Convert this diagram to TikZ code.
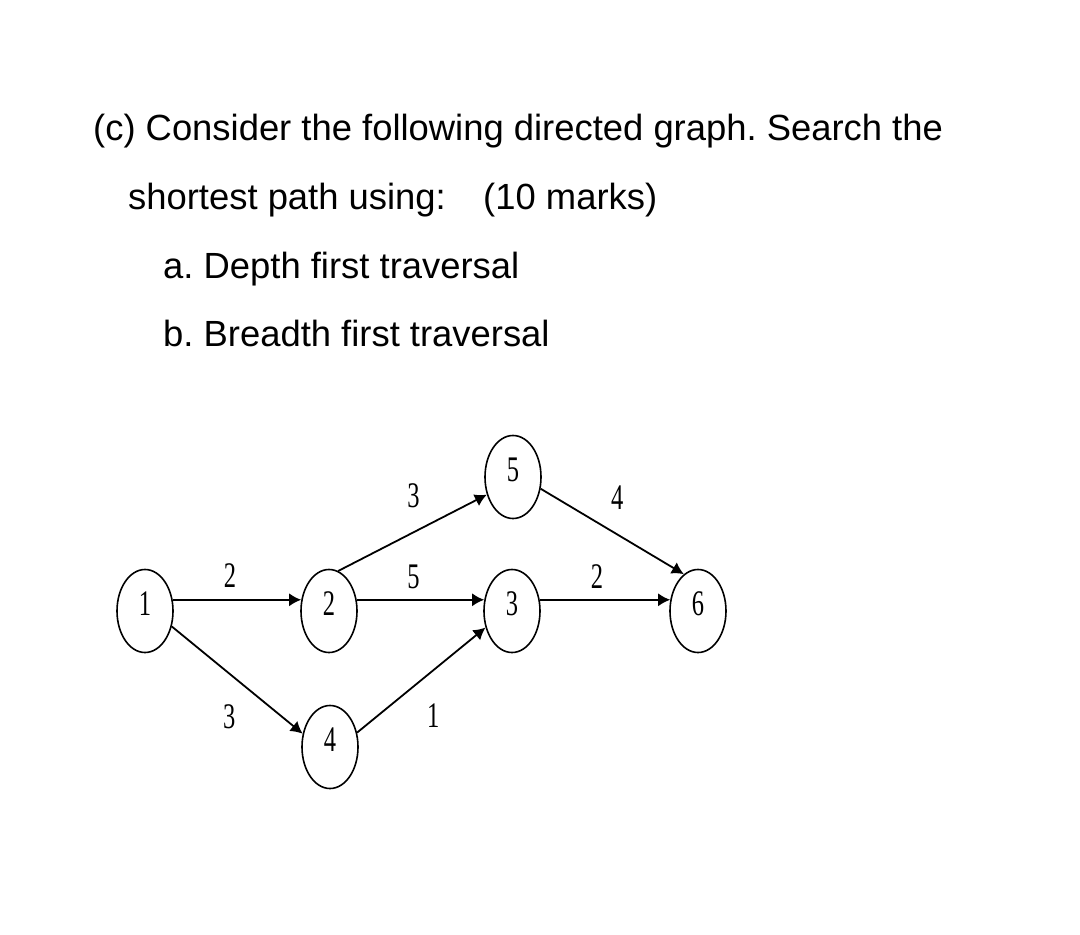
\documentclass[tikz,border=0pt]{standalone}
\usepackage{fontspec}
\setmainfont{Liberation Sans}
\newfontfamily\graphfont{Liberation Serif}
\usetikzlibrary{shapes.geometric}
\usetikzlibrary{arrows.meta}
\tikzset{>={Latex[length=12pt,width=13pt]}}
\tikzset{
  vertex/.style={draw,ellipse,line width=1.6pt,minimum width=56pt,minimum height=83pt,inner sep=0pt,font=\graphfont\fontsize{36}{36}\selectfont},
  weight/.style={inner sep=0pt,font=\graphfont\fontsize{36}{36}\selectfont},
  arc/.style={->,line width=1.8pt},
  question/.style={anchor=base west,inner sep=0pt,font=\fontsize{36.4}{44}\selectfont}
}
\newcommand{\narrowdigit}[1]{\scalebox{0.68}[1]{#1}}
\newcommand{\vlabel}[1]{\raisebox{14pt}{\narrowdigit{#1}}}

\begin{document}
\frenchspacing
\begin{tikzpicture}[x=1pt,y=-1pt]
        \useasboundingbox (0,0) rectangle (1080,935);
        % question text
        \node[question] (line1) at (93,140) {(c) Consider the following directed graph. Search the};
        \node[question] (line2) at (128,209) {shortest path using:\hspace{0.75em} (10 marks)};
        \node[question] (line3) at (163,278) {a. Depth first traversal};
        \node[question] (line4) at (163,346) {b. Breadth first traversal};
        % graph
        \node[vertex] (n1) at (145,611) {\vlabel{1}};
        \node[vertex] (n2) at (329,611) {\vlabel{2}};
        \node[vertex] (n3) at (512,611) {\vlabel{3}};
        \node[vertex] (n4) at (330,747) {\vlabel{4}};
        \node[vertex] (n5) at (513,477) {\vlabel{5}};
        \node[vertex] (n6) at (698,611) {\vlabel{6}};
        \draw[arc] (n1.22) -- node[weight,xshift=-7pt,yshift=24pt] {\narrowdigit{2}} (n2.158);
        \draw[arc] (n2.22) -- node[weight,xshift=-7pt,yshift=23pt] {\narrowdigit{5}} (n3.158);
        \draw[arc] (n3.22) -- node[weight,xshift=-8pt,yshift=23pt] {\narrowdigit{2}} (n6.158);
        \draw[arc] (n1.-30) -- node[weight,xshift=-8pt,yshift=-37pt] {\narrowdigit{3}} (n4.154);
        \draw[arc] (n4.28) -- node[weight,xshift=12pt,yshift=-36pt] {\narrowdigit{1}} (n3.212);
        \draw[arc] (n2.77) -- node[weight,xshift=1pt,yshift=37pt] {\narrowdigit{3}} (n5.214);
        \draw[arc] (n5.-23) -- node[weight,xshift=5pt,yshift=34pt] {\narrowdigit{4}} (n6.111);
    \end{tikzpicture}
\end{document}
